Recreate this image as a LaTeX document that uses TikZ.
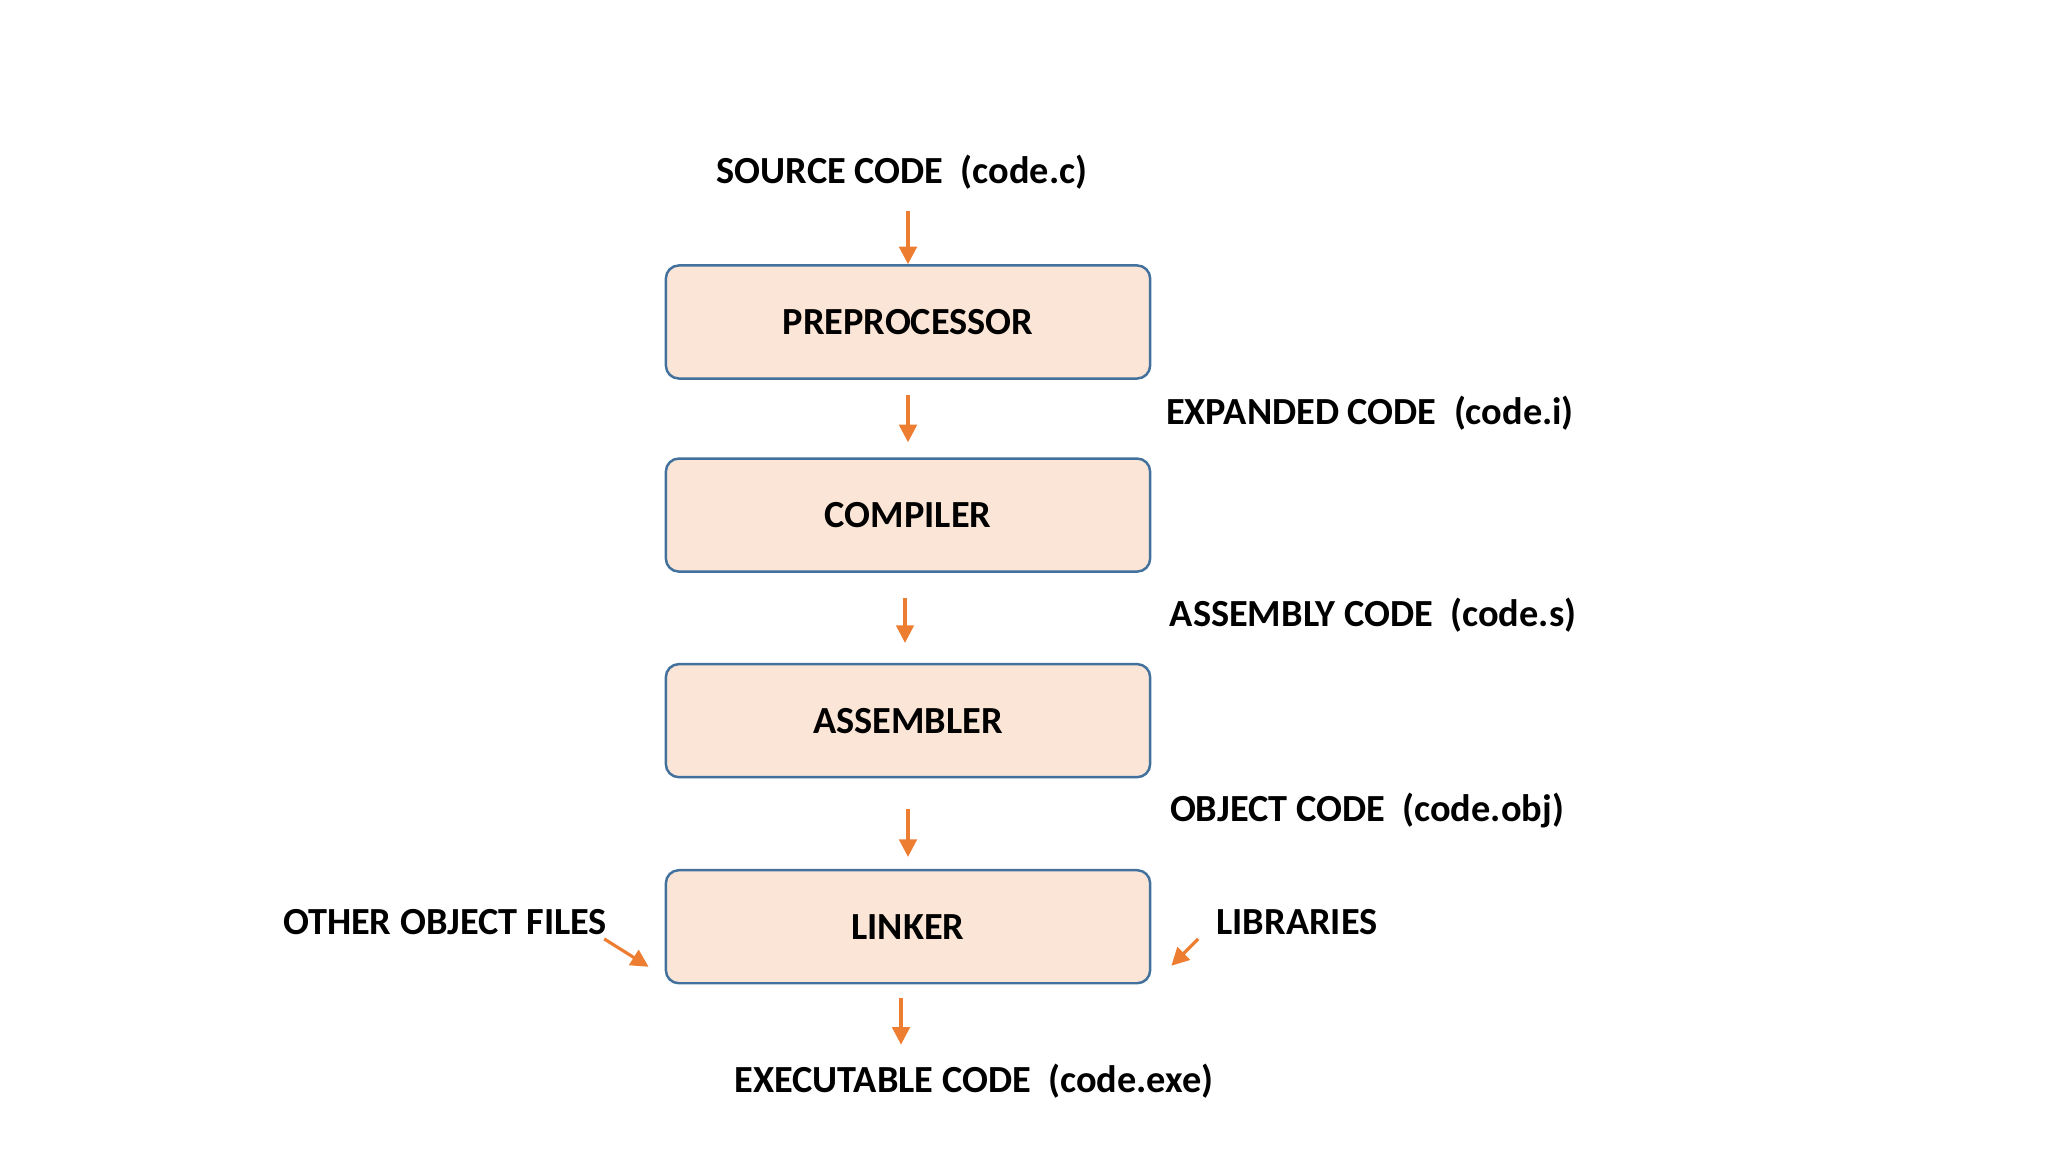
\documentclass[tikz,border=0pt]{standalone}
\usepackage{fontspec}
\setmainfont{Carlito}
\usetikzlibrary{positioning,arrows.meta}

\definecolor{boxfill}{HTML}{FBE5D6}
\definecolor{boxline}{HTML}{41719C}
\definecolor{arrowc}{HTML}{ED7D31}

\tikzset{
  stage/.style  = {draw=boxline, fill=boxfill, line width=0.7pt, rounded corners=0.13cm,
                   minimum width=4.84cm, minimum height=1.13cm, align=center,
                   font=\fontsize{10.9}{13}\selectfont\bfseries},
  file/.style   = {inner sep=1pt, font=\fontsize{10.9}{13}\selectfont\bfseries},
  flow/.style   = {draw=arrowc, line width=0.9pt, -{Triangle[length=5pt,width=5pt]}}
}

\begin{document}
\begin{tikzpicture}[x=0.01cm, y=-0.01cm]
\useasboundingbox (0,0) rectangle (2048,1152);

% the four stages, one under the other
\node[stage] (pre) at (908,322) {PREPROCESSOR};
\node[stage, below=0.775cm of pre] (comp) {COMPILER};
\node[stage, below=0.9cm of comp] (asm) {ASSEMBLER};
\node[stage, below=0.905cm of asm] (link) {LINKER};

% files going in and out
\node[file] (src) at (902,172) {SOURCE CODE~~(code.c)};
\node[file] (exp) at (1370,413) {EXPANDED CODE~~(code.i)};
\node[file] (asmc) at (1373,615) {ASSEMBLY CODE~~(code.s)};
\node[file] (obj) at (1367,811) {OBJECT CODE~~(code.obj)};
\node[file] (other) at (445,922) {OTHER OBJECT FILES};
\node[file] (lib) at (1297,922) {LIBRARIES};
\node[file] (exe) at (974,1081) {EXECUTABLE CODE~~(code.exe)};

\draw[flow, shorten <=0.18cm] (pre.north |- src.south) -- (pre.north);
\draw[flow, shorten <=0.15cm, shorten >=0.15cm] (pre.south) -- (comp.north);
\draw[flow, shorten <=0.25cm, shorten >=0.2cm] ([xshift=-0.03cm]comp.south) -- ([xshift=-0.03cm]asm.north);
\draw[flow, shorten <=0.31cm, shorten >=0.12cm] (asm.south) -- (link.north);
\draw[flow, shorten <=0.13cm, shorten >=0.15cm] ([xshift=-0.07cm]link.south) -- ([xshift=-0.07cm]link.south |- exe.north);
\draw[flow] ([xshift=-0.07cm]other.south east) -- ([xshift=-0.16cm,yshift=-0.40cm]link.west);
\draw[flow] ([xshift=-0.14cm]lib.south west) -- ([xshift=0.2cm,yshift=-0.39cm]link.east);

\end{tikzpicture}
\end{document}
